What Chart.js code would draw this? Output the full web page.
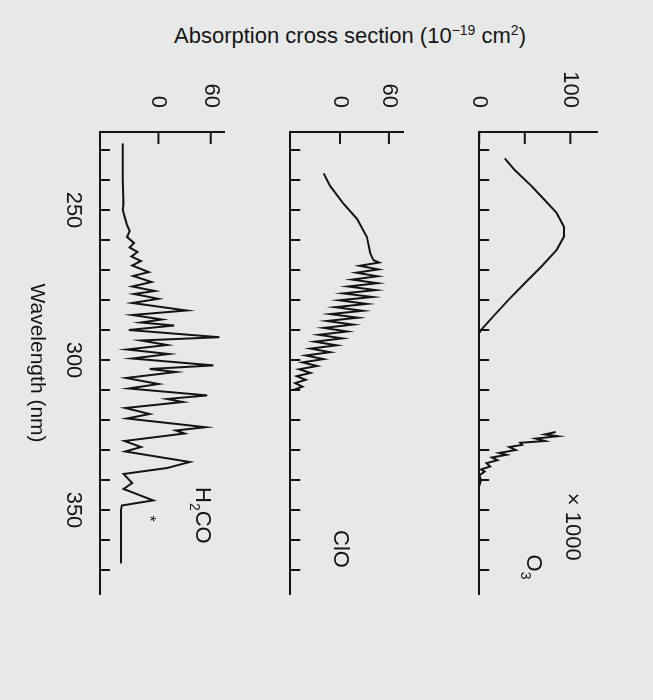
<!DOCTYPE html>
<html>
<head>
<meta charset="utf-8">
<script src="https://cdn.jsdelivr.net/npm/chart.js@4"></script>
<style>
  body { margin: 0; width: 653px; height: 700px; overflow: hidden; background: #e7e9e8; font-family: "Liberation Sans", Arial, sans-serif; }
  #title { position: absolute; left: 0; width: 700px; top: 22px; text-align: center; font-size: 22px; color: #161616; }
  #title sup { font-size: 14px; }
  #rot { position: absolute; left: 0; top: 0; width: 700px; height: 653px; transform-origin: 0 0; transform: translate(653px, 0) rotate(90deg); }
  #rot canvas { position: absolute; left: 0; }
</style>
</head>
<body>
<div id="title">Absorption cross section (10<sup>&minus;19</sup> cm<sup>2</sup>)</div>
<div id="rot">
  <canvas id="c-o3" style="top:27px"></canvas>
  <canvas id="c-clo" style="top:221px"></canvas>
  <canvas id="c-h2co" style="top:400px"></canvas>
</div>
<script>
// wavelength axis (nm)
const WL_MIN = 224, WL_MAX = 378;
const wlTicks = [230, 240, 250, 260, 270, 280, 290, 300, 310, 320, 330, 340, 350, 360, 370];
const wlLabels = [250, 300, 350];

// O3 (Hartley band)
const o3Wl  = [232.8, 236.7, 242.2, 246.7, 251, 255.6, 258.9, 263.3, 268.9, 274.4, 280, 285.6, 290, 291];
const o3Val = [28, 39, 58, 72, 85, 93, 93, 85, 68, 50, 32, 15, 2, 0];
// O3 x 1000 (Huggins band)
const o3kWl  = [324, 324.8, 325.4, 326.2, 327, 327.6, 328.3, 329, 330, 331, 331.6, 332.5, 333.4, 334.4, 335.5, 336.5, 337.2, 338.5, 340, 342];
const o3kVal = [84, 72, 86, 62, 72, 45, 47, 33, 40, 22, 30, 14, 20, 8, 12, 2, 6, 0, 2, 0];

// ClO
const cloWl = [237.8, 242, 247.8, 253, 259, 264.4, 266.7,
  267.5, 268.6, 269.8, 270.9, 272.1, 273.2, 274.4, 275.5, 276.7, 277.8, 279, 280.1, 281.3, 282.4,
  283.6, 284.7, 285.9, 287, 288.2, 289.3, 290.5, 291.6, 292.8, 293.9, 295.1, 296.2, 297.4, 298.5,
  299.7, 300.8, 302, 303.1, 304.3, 305.4, 306.6, 307.7, 308.9, 310];
const cloVal = [-20, -12, 4, 21, 33, 37, 41,
  48, 24, 47, 20, 46, 15, 46, 10, 44, 4, 40, -1, 33, -6,
  28, -12, 22, -16, 16, -20, 9, -26, 3, -31, -4, -36, -12, -42,
  -20, -46, -28, -50, -36, -53, -42, -55, -46, -57];

// H2CO
const h2coWl = [227.8, 240, 248, 250, 253, 255, 257, 259, 261, 262.5, 264, 265.5, 267, 268.5,
  270.7, 272, 274, 275.5, 277, 278, 279.6, 281, 283.5, 285, 286.5, 287.5, 288.5, 290,
  292.4, 293.5, 295, 296.5, 298, 299.5, 301.8, 303, 304, 306, 308, 309.5, 311.8, 313, 314,
  316, 318, 319.5, 322.4, 323.5, 324.5, 327, 329, 330.5, 334, 336, 338, 341, 343, 346.8,
  348.5, 350, 367.8];
const h2coVal = [-41, -41, -40, -41, -38, -36, -33, -36, -28, -33, -24, -31, -20, -30,
  -11, -29, -8, -30, -4, -28, 0, -30, 32, -30, 4, -20, 18, -34,
  70, -20, 10, -36, 12, -30, 63, -10, 20, -37, 0, -34, 56, 10, 28,
  -38, -10, -36, 54, 20, 30, -39, -20, -38, 36, 10, -40, -30, -40, -6,
  -42, -43, -43];

const INK = '#141414';
const FONT = '"Liberation Sans", Arial, sans-serif';

// inward ticks on both axes + text labels
const tickPlugin = {
    id: 'inTicks',
    afterDraw(chart, args, opts) {
        const { ctx, chartArea, scales } = chart;
        ctx.save();
        ctx.strokeStyle = INK;
        ctx.lineWidth = 2;
        wlTicks.forEach(w => {
            const x = scales.x.getPixelForValue(w);
            ctx.beginPath();
            ctx.moveTo(x, chartArea.bottom);
            ctx.lineTo(x, chartArea.bottom - 10);
            ctx.stroke();
        });
        opts.yTicks.forEach(v => {
            const y = scales.y.getPixelForValue(v);
            ctx.beginPath();
            ctx.moveTo(chartArea.left, y);
            ctx.lineTo(chartArea.left + 12, y);
            ctx.stroke();
        });
        ctx.fillStyle = INK;
        ctx.textBaseline = 'middle';
        ctx.textAlign = 'left';
        (opts.texts || []).forEach(t => {
            const x = scales.x.getPixelForValue(t.x);
            const y = scales.y.getPixelForValue(t.y);
            let w = 0;
            t.parts.forEach(p => {
                ctx.font = `${p.sub ? 14 : (t.size || 22)}px ${FONT}`;
                w += ctx.measureText(p.s).width;
            });
            let cx = x - w / 2;
            t.parts.forEach(p => {
                ctx.font = `${p.sub ? 14 : (t.size || 22)}px ${FONT}`;
                ctx.fillText(p.s, cx, p.sub ? y + 8 : y);
                cx += ctx.measureText(p.s).width;
            });
        });
        ctx.restore();
    }
};

function pts(xs, ys) {
    return xs.map((x, i) => ({ x: x, y: ys[i] }));
}

function makePanel(id, areaH, bottomExtra, yMin, yMax, yTicks, yLabels, datasets, texts, showX) {
    const cv = document.getElementById(id);
    cv.width = 700;
    cv.height = areaH + 20 + bottomExtra;
    cv.style.width = '700px';
    cv.style.height = cv.height + 'px';
    return new Chart(cv, {
        type: 'line',
        data: {
            datasets: datasets.map(d => ({
                data: d, borderColor: INK, borderWidth: 2, pointRadius: 0, tension: 0, fill: false
            }))
        },
        options: {
            responsive: false,
            animation: false,
            layout: { padding: { left: 0, right: 106, top: 20, bottom: 0 } },
            plugins: { legend: { display: false }, tooltip: { enabled: false },
                inTicks: { yTicks: yTicks, texts: texts } },
            scales: {
                x: {
                    type: 'linear', min: WL_MIN, max: WL_MAX,
                    afterBuildTicks: s => { s.ticks = wlLabels.map(v => ({ value: v })); },
                    afterFit: s => { s.height = bottomExtra; },
                    grid: { display: false },
                    border: { display: true, color: INK, width: 2 },
                    ticks: { display: showX, color: INK, font: { size: 22, family: FONT }, padding: 6, maxRotation: 0 },
                    title: { display: showX, text: 'Wavelength (nm)', color: INK, font: { size: 21, family: FONT }, padding: { top: 4 } }
                },
                y: {
                    type: 'linear', min: yMin, max: yMax,
                    afterBuildTicks: s => { s.ticks = yLabels.map(v => ({ value: v })); },
                    afterFit: s => { s.width = 132; },
                    grid: { display: false },
                    border: { display: true, color: INK, width: 2 },
                    ticks: { color: INK, font: { size: 22, family: FONT }, padding: 16 }
                }
            }
        },
        plugins: [tickPlugin]
    });
}

makePanel('c-o3', 146, 10, 0, 129, [0, 50, 100], [0, 100],
    [pts(o3Wl, o3Val), pts(o3kWl, o3kVal)],
    [{ x: 355.6, y: 102, parts: [{ s: '\u00d7 1000' }] },
     { x: 369, y: 59, parts: [{ s: 'O' }, { s: '3', sub: true }] }], false);

makePanel('c-clo', 141, 10, -61, 77, [0, 60], [0, 60],
    [pts(cloWl, cloVal)],
    [{ x: 363, y: 0, parts: [{ s: 'ClO' }] }], false);

makePanel('c-h2co', 133, 80, -67, 75, [0, 60], [0, 60],
    [pts(h2coWl, h2coVal)],
    [{ x: 351.8, y: 50, parts: [{ s: 'H' }, { s: '2', sub: true }, { s: 'CO' }] },
     { x: 352.9, y: -12, size: 16, parts: [{ s: '*' }] }], true);
</script>
</body>
</html>
